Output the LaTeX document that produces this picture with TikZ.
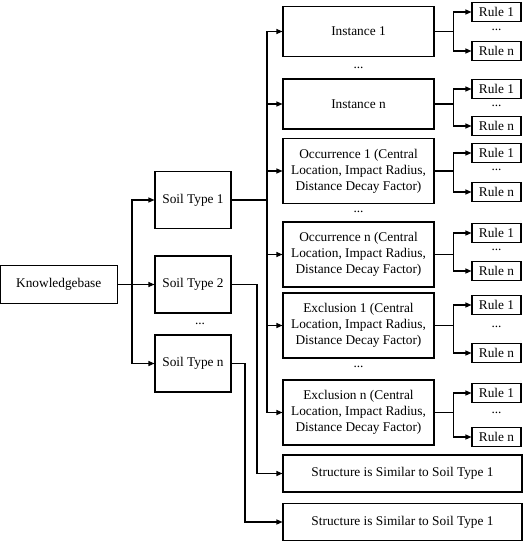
\documentclass[tikz,border=0pt]{standalone}
\usepackage{fontspec}
\setmainfont{Liberation Serif}
\usetikzlibrary{arrows.meta}
\begin{document}
\begin{tikzpicture}[x=0.75pt,y=-0.75pt,>={Triangle[length=4.5pt,width=3.75pt]},
    every node/.style={font=\fontsize{10}{12}\selectfont},
    box/.style={draw,line width=0.8pt,inner sep=0pt,align=center},
    soilbox/.style={box,minimum width=57pt,minimum height=42.75pt},
    itembox/.style={box,minimum width=113.25pt,minimum height=37.5pt},
    factorbox/.style={box,minimum width=113.25pt,minimum height=48.75pt},
    simbox/.style={box,minimum width=179.25pt,minimum height=27.75pt},
    rulebox/.style={box,minimum width=36.75pt,minimum height=14.25pt}]
    \useasboundingbox (0,0) rectangle (523,542);
    % knowledgebase and soil types
    \node[box,minimum width=87.75pt,minimum height=28.5pt] (KB) at (58.75,284.5) {Knowledgebase};
    \node[soilbox] (S1) at (193,200) {Soil Type 1};
    \node[soilbox] (S2) at (193,284.5) {Soil Type 2};
    \node[soilbox] (Sn) at (193,363.5) {Soil Type n};
    \node at (200,324) {...};
    % structure of soil type 1
    \node[itembox] (I1) at (358.5,31.5) {Instance 1};
    \node[itembox] (In) at (358.5,104) {Instance n};
    \node[factorbox] (O1) at (358.5,171) {Occurrence 1 (Central\\Location, Impact Radius,\\Distance Decay Factor)};
    \node[factorbox] (On) at (358.5,254.5) {Occurrence n (Central\\Location, Impact Radius,\\Distance Decay Factor)};
    \node[factorbox] (E1) at (358.5,325.5) {Exclusion 1 (Central\\Location, Impact Radius,\\Distance Decay Factor)};
    \node[factorbox] (En) at (358.5,412.5) {Exclusion n (Central\\Location, Impact Radius,\\Distance Decay Factor)};
    \node at (358.5,68) {...};
    \node at (358.5,212) {...};
    \node at (358.5,367) {...};
    \node[simbox] (T2) at (402.5,473.5) {Structure is Similar to Soil Type 1};
    \node[simbox] (Tn) at (402.5,522) {Structure is Similar to Soil Type 1};
    % rules
    \foreach \b/\ya/\yn/\yd in {I1/12/51/30, In/89/126/106, O1/153/192/170,
        On/233/271/250, E1/305/353/327, En/393/437/413} {
      \node[rulebox] (\b r1) at (496.5,\ya) {Rule 1};
      \node[rulebox] (\b rn) at (496.5,\yn) {Rule n};
      \node at (496.5,\yd) {...};
      \draw[line width=0.8pt] (\b.east) -- ++(18.5,0) coordinate (j\b);
      \draw[line width=0.8pt,->] (j\b) |- (\b r1.west);
      \draw[line width=0.8pt,->] (j\b) |- (\b rn.west);
    }
    % connectors
    \begin{scope}[line width=0.8pt]
      \coordinate (K) at (132,284.5);
      \coordinate (S) at (267,200);
      \coordinate (J2) at (257,473.5);
      \coordinate (Jn) at (245,522);
      \draw (KB.east) -- (K);
      \draw[->] (K) |- (S1.west);
      \draw[->] (K) -- (S2.west);
      \draw[->] (K) |- (Sn.west);
      \draw (S1.east) -- (S);
      \foreach \b in {I1,In,O1,On,E1,En}
        \draw[->] (S) |- (\b.west);
      \draw[->] (S2.east) -| (J2) -- (T2.west);
      \draw[->] (Sn.east) -| (Jn) -- (Tn.west);
    \end{scope}
\end{tikzpicture}
\end{document}
